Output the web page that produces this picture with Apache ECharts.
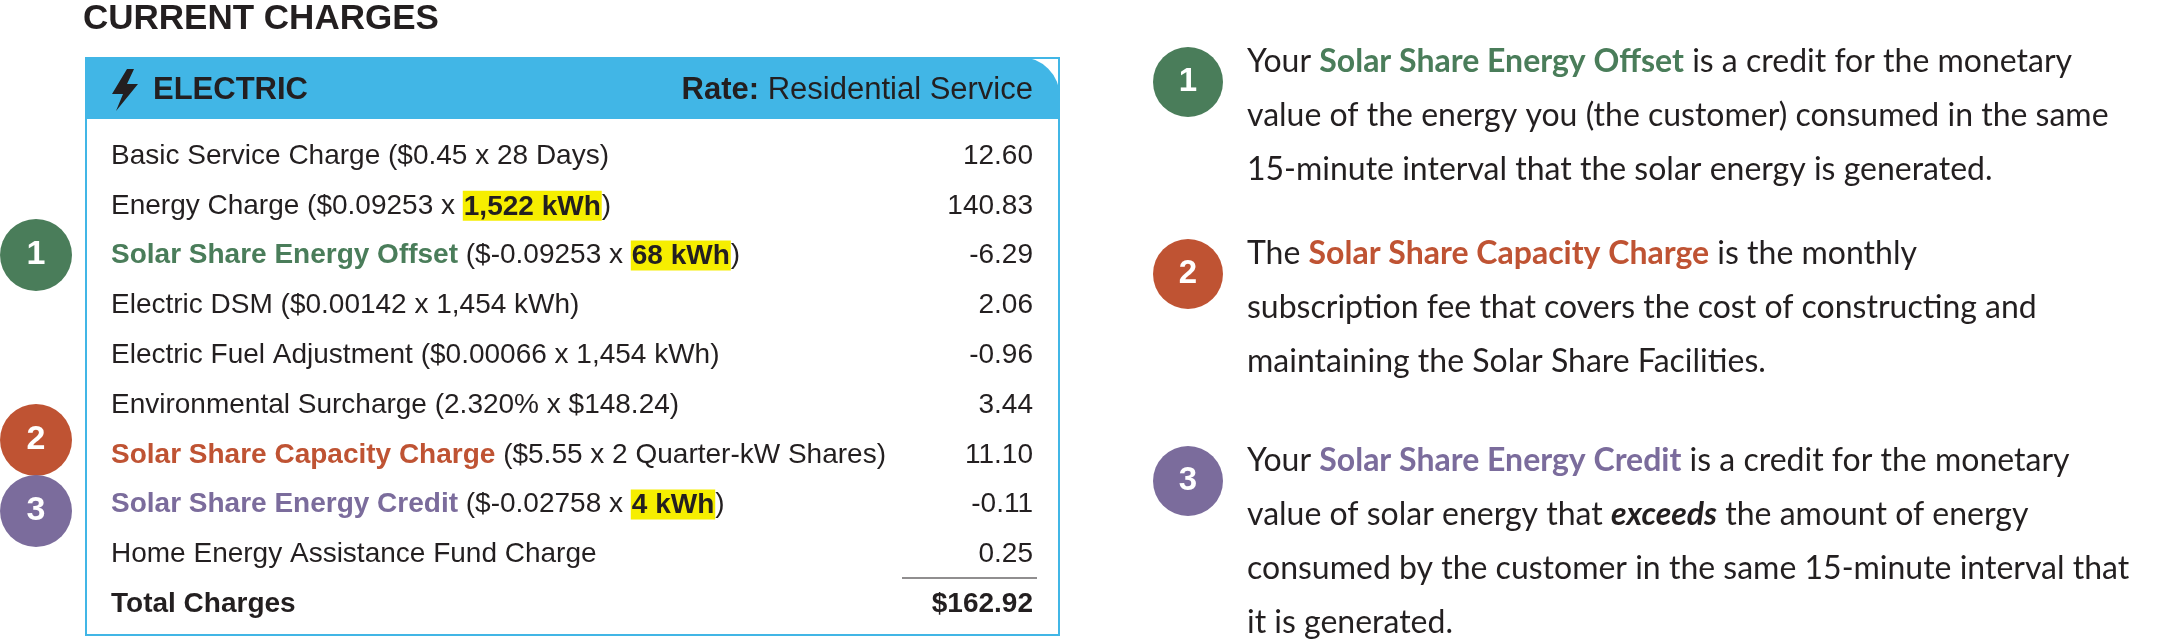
<!DOCTYPE html>
<html><head><meta charset="utf-8">
<script src="https://cdn.jsdelivr.net/npm/echarts@6/dist/echarts.min.js"></script>
<style>html,body{margin:0;padding:0;background:#fff}#c{width:2174px;height:643px}</style>
</head><body><div id="c"></div>
<script>
// Data
const title = 'CURRENT CHARGES';
const headerLeft = 'ELECTRIC';
const headerRate = ['Rate:', ' Residential Service'];
// segments: [text, style] ; n normal, g green bold, o orange bold, p purple bold, h highlighted bold
const rowLabels = [
  [['Basic Service Charge ($0.45 x 28 Days)','n']],
  [['Energy Charge ($0.09253 x ','n'],['1,522 kWh','h'],[')','n']],
  [['Solar Share Energy Offset','g'],[' ($-0.09253 x ','n'],['68 kWh','h'],[')','n']],
  [['Electric DSM ($0.00142 x 1,454 kWh)','n']],
  [['Electric Fuel Adjustment ($0.00066 x 1,454 kWh)','n']],
  [['Environmental Surcharge (2.320% x $148.24)','n']],
  [['Solar Share Capacity Charge','o'],[' ($5.55 x 2 Quarter-kW Shares)','n']],
  [['Solar Share Energy Credit','p'],[' ($-0.02758 x ','n'],['4 kWh','h'],[')','n']],
  [['Home Energy Assistance Fund Charge','n']],
  [['Total Charges','b']]
];
const rowAmounts = ['12.60','140.83','-6.29','2.06','-0.96','3.44','11.10','-0.11','0.25','$162.92'];
const markerRows = [2, 6, 7];
const markerNums = ['1','2','3'];
const notes = [
  [[['Your ','n'],['Solar Share Energy Offset','g'],[' is a credit for the monetary','n']],
   [['value of the energy you (the customer) consumed in the same','n']],
   [['15-minute interval that the solar energy is generated.','n']]],
  [[['The ','n'],['Solar Share Capacity Charge','o'],[' is the monthly','n']],
   [['subscription fee that covers the cost of constructing and','n']],
   [['maintaining the Solar Share Facilities.','n']]],
  [[['Your ','n'],['Solar Share Energy Credit','p'],[' is a credit for the monetary','n']],
   [['value of solar energy that ','n'],['exceeds','i'],[' the amount of energy','n']],
   [['consumed by the customer in the same 15-minute interval that','n']],
   [['it is generated.','n']]]
];
const colors = ['#4a7d5a','#bf5333','#7b6c9c'];

const BLUE = '#41b6e6';
const F1 = '"Liberation Sans Narrow", "Liberation Sans", sans-serif';
const F2 = 'Lato, "Noto Sans", sans-serif';
function richFor(fs, fam) {
  return {
    n:{fontSize:fs,fontFamily:fam,fill:'#231f20'},
    b:{fontSize:fs,fontFamily:fam,fontWeight:'bold',fill:'#231f20'},
    g:{fontSize:fs,fontFamily:fam,fontWeight:'bold',fill:colors[0]},
    o:{fontSize:fs,fontFamily:fam,fontWeight:'bold',fill:colors[1]},
    p:{fontSize:fs,fontFamily:fam,fontWeight:'bold',fill:colors[2]},
    i:{fontSize:fs,fontFamily:fam,fontWeight:'bold',fontStyle:'italic',fill:'#231f20'},
    h:{fontSize:fs,fontFamily:fam,fontWeight:'bold',fill:'#231f20',backgroundColor:'#f6ee00',padding:[2,1,0,1]}
  };
}
function rt(segs){return segs.map(s=>'{'+s[1]+'|'+s[0].replace(/[{}|]/g,'')+'}').join('');}

const g = [];
g.push({type:'text',x:83,y:19,style:{text:title,font:'bold 35px '+F1,fill:'#231f20',textVerticalAlign:'middle'}});
g.push({type:'rect',shape:{x:86,y:58,width:973,height:577},style:{fill:'none',stroke:BLUE,lineWidth:2}});
g.push({type:'rect',shape:{x:85,y:57,width:975,height:62,r:[0,40,0,0]},style:{fill:BLUE}});
g.push({type:'rect',shape:{x:1040,y:119,width:20,height:4},style:{fill:'#fff'}});
g.push({type:'line',shape:{x1:1059,y1:100,x2:1059,y2:635},style:{stroke:BLUE,lineWidth:2}});
g.push({type:'polygon',shape:{points:[[127,69],[112,94],[123,94],[116,111],[138,84],[127,84],[134,69]]},style:{fill:'#231f20'}});
g.push({type:'text',x:153,y:90,style:{text:headerLeft,font:'bold 31px '+F1,fill:'#231f20',textVerticalAlign:'middle'}});
g.push({type:'text',x:1033,y:90,style:{text:'{b|'+headerRate[0]+'}{n|'+headerRate[1]+'}',rich:richFor(31,F1),textAlign:'right',textVerticalAlign:'middle'}});

const y0 = 156, dy = 49.8;
const r1 = richFor(28, F1);
rowLabels.forEach((segs,i)=>{
  const y = y0 + i*dy;
  g.push({type:'text',x:111,y:y,style:{text:rt(segs),rich:r1,textVerticalAlign:'middle'}});
  const last = i===rowLabels.length-1;
  g.push({type:'text',x:1033,y:y,style:{text:rowAmounts[i],font:(last?'bold ':'')+'28px '+F1,fill:'#231f20',textAlign:'right',textVerticalAlign:'middle'}});
});
g.push({type:'line',shape:{x1:902,y1:578,x2:1037,y2:578},style:{stroke:'#231f20',lineWidth:1.2}});

const markerY = [255, 440, 511];
markerRows.forEach((r,k)=>{
  g.push({type:'circle',shape:{cx:36,cy:markerY[k],r:36},style:{fill:colors[k]}});
  g.push({type:'text',x:36,y:markerY[k],style:{text:markerNums[k],font:'bold 34px '+F1,fill:'#fff',textAlign:'center',textVerticalAlign:'middle'}});
});

const noteY = [62, 254, 461];
const r2 = richFor(32, F2);
notes.forEach((lines,k)=>{
  g.push({type:'circle',shape:{cx:1188,cy:noteY[k]+20,r:35},style:{fill:colors[k]}});
  g.push({type:'text',x:1188,y:noteY[k]+20,style:{text:markerNums[k],font:'bold 33px '+F1,fill:'#fff',textAlign:'center',textVerticalAlign:'middle'}});
  lines.forEach((segs,j)=>{
    g.push({type:'text',x:1247,y:noteY[k]+j*54,style:{text:rt(segs),rich:r2,textVerticalAlign:'middle'}});
  });
});

const chart = echarts.init(document.getElementById('c'));
chart.setOption({animation:false,graphic:g});
</script></body></html>
